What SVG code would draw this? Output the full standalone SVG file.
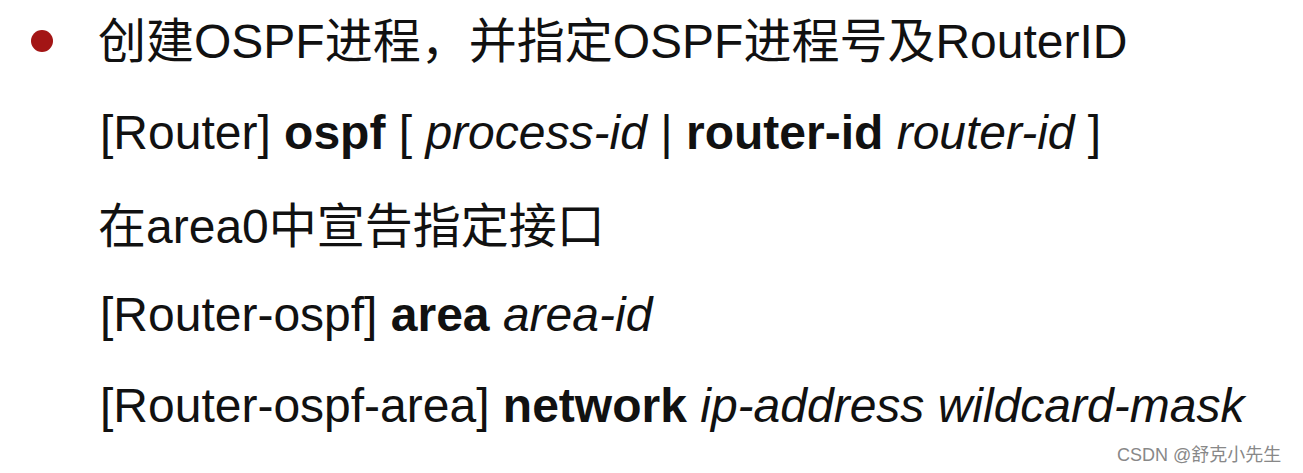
<svg xmlns="http://www.w3.org/2000/svg" width="1303" height="473" viewBox="0 0 1303 473">
<style>
text{font-family:"Liberation Sans","Noto Sans CJK SC",sans-serif;font-size:48px;fill:#111}
.b{font-weight:bold}.i{font-style:italic}
.wm{font-size:18px;fill:#888}
</style>
<rect width="1303" height="473" fill="#fff"/>
<circle cx="42" cy="41" r="11" fill="#a31515"/>
<text x="98" y="58">创建OSPF进程，并指定OSPF进程号及RouterID</text>
<text x="100" y="149">[Router] <tspan class="b">ospf</tspan> [ <tspan class="i">process-id</tspan> | <tspan class="b">router-id</tspan> <tspan class="i">router-id</tspan> ]</text>
<text x="98" y="243">在area0中宣告指定接口</text>
<text x="100" y="331">[Router-ospf] <tspan class="b">area</tspan> <tspan class="i">area-id</tspan></text>
<text x="100" y="422">[Router-ospf-area] <tspan class="b">network</tspan> <tspan class="i">ip-address wildcard-mask</tspan></text>
<text class="wm" x="1117" y="461">CSDN @舒克小先生</text>
</svg>
